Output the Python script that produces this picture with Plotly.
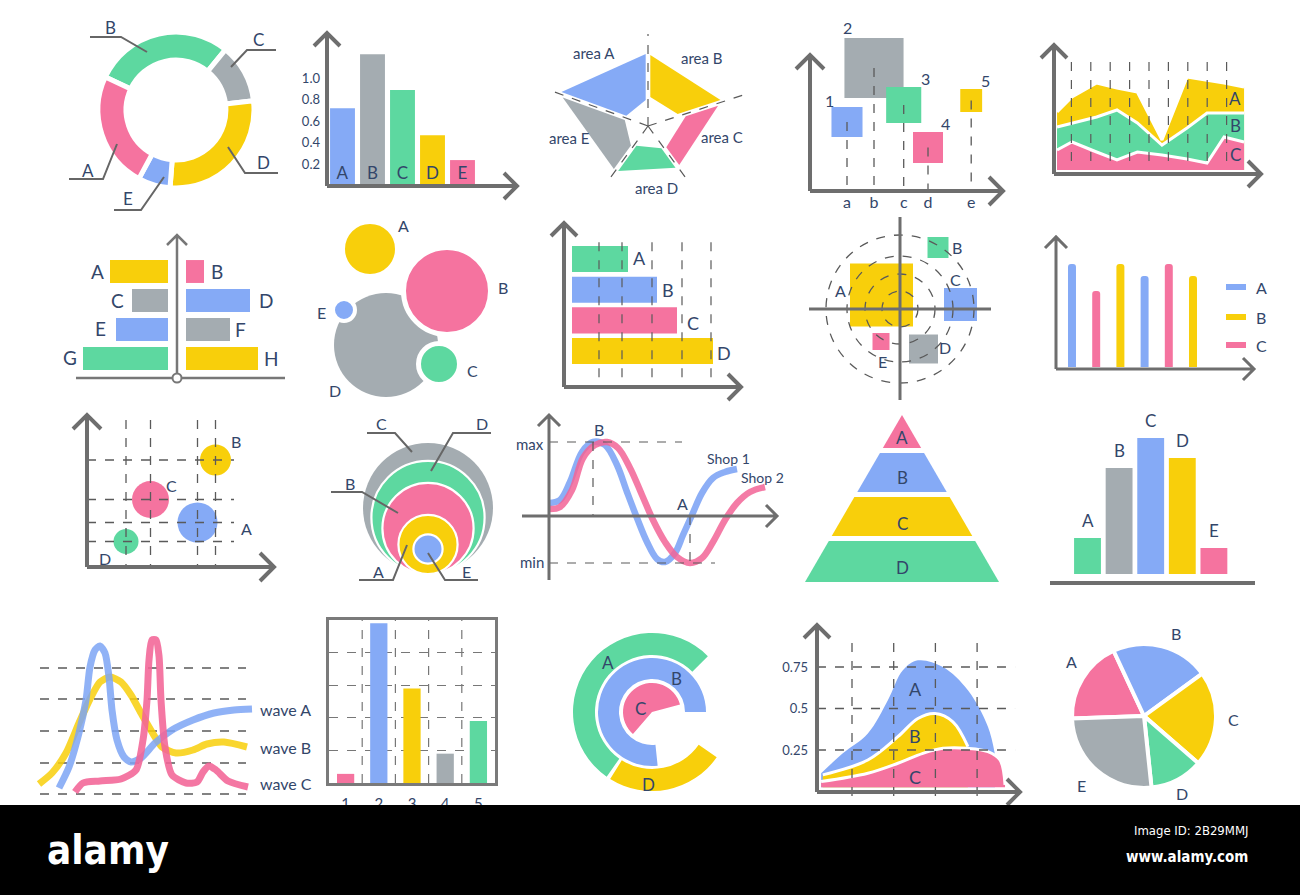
import math
import plotly.graph_objects as go

W, H = 1300, 895
PINK = '#F5739F'
GREEN = '#5DD8A0'
GREY = '#A4ACB1'
YELLOW = '#F8CF0B'
BLUE = '#85AAF6'
TEXT = '#33466A'
AX = '#6E6E6E'
DASH = '#5A5A5A'
FONT = 'Lato, Open Sans, sans-serif'

# ---------------- data ----------------
donut_labels = ['B', 'C', 'D', 'E', 'A']
donut_values = [100, 42, 97, 23, 83]

bar_labels = ['A', 'B', 'C', 'D', 'E']
bar_values = [0.72, 1.22, 0.89, 0.47, 0.24]
bar_ticks = [0.2, 0.4, 0.6, 0.8, 1.0]

radar_names = ['area A', 'area E', 'area D', 'area C', 'area B']
radar_axes = [90, 160, 234, 306, 378, 450]
radar_outer = [[72, 93], [90, 55], [54, 50], [50, 73], [77, 71]]
radar_inner = [[26, 24], [24, 26], [23, 26], [28, 39], [32, 29]]
radar_spoke_len = [92, 106, 69, 69, 100]

float_ids = ['1', '2', '3', '4', '5']
float_cats = ['a', 'b', 'c', 'd', 'e']
float_pos = [1, 2, 3.1, 4, 5.6]
float_low = [5.4, 9.3, 6.8, 2.8, 7.9]
float_high = [8.4, 15.3, 10.4, 5.9, 10.2]
float_width = [1.15, 2.19, 1.30, 1.11, 0.81]

stack_x = [0.26, 1.03, 2.3, 3.35, 4.4, 5.67, 6.96, 7.99, 8.87, 9.9]
stack_A = [5.8, 7.3, 8.7, 8.2, 7.8, 3.0, 9.3, 9.0, 8.7, 8.3]
stack_B = [4.3, 4.7, 5.3, 6.0, 4.7, 2.5, 4.2, 5.7, 5.7, 5.7]
stack_C = [2.0, 2.8, 1.8, 1.0, 1.8, 1.5, 1.1, 0.7, 3.3, 2.8]
stack_grid = [1, 2, 3, 4, 5, 6, 7, 8, 9]

bf_left_labels = ['A', 'C', 'E', 'G']
bf_left = [58, 36, 52, 85]
bf_right_labels = ['B', 'D', 'F', 'H']
bf_right = [18, 64, 44, 72]
bf_rows = [4, 3, 2, 1]

bub_labels = ['D', 'A', 'B', 'C', 'E']
bub_x = [86, 70, 147, 139, 44]
bub_y = [55, 151, 109, 36, 90]
bub_d = [104, 50, 82, 36, 18]

hbar_labels = ['A', 'B', 'C', 'D']
hbar_values = [5.6, 8.5, 10.5, 14.1]
hbar_rows = [4, 3, 2, 1]
hbar_grid = [2.7, 5.0, 8.0, 11.0, 13.9]

target_labels = ['A', 'B', 'C', 'D', 'E']
target_x = [-18.5, 38, 60.5, 23.5, -19]
target_y = [14, 61.5, 4.5, -40, -32.5]
target_size = [63, 21, 33, 29, 17]
target_rings = [18, 35, 53, 74]

thin_series = ['A', 'C', 'B', 'A', 'C', 'B']
thin_values = [10.3, 7.6, 10.3, 9.1, 10.3, 9.1]

scat_labels = ['A', 'B', 'C', 'D']
scat_x = [110.5, 128.5, 63.5, 39]
scat_y = [44.5, 107, 67.5, 25.5]
scat_d = [40, 31, 37, 25]

nest_labels = ['C', 'D', 'B', 'A', 'E']
nest_r = [65, 55.5, 44.5, 28.5, 13.5]
nest_cy = [65, 55.5, 44.5, 28.5, 24]

shop1_x = [0, 11, 21, 33, 44, 56, 68, 78, 88, 98, 108, 116, 126, 134, 143, 153, 164, 176, 188]
shop1_y = [13, 16, 34, 64, 74, 71, 51, 24, -2, -26, -43, -46, -37, -19, 1, 23, 38, 44, 47]
shop2_x = [0, 11, 23, 34, 46, 58, 69, 81, 93, 104, 116, 128, 141, 153, 164, 176, 188, 201, 216]
shop2_y = [7, 9, 26, 58, 71, 74, 68, 48, 21, -4, -26, -41, -47, -42, -26, -4, 13, 24, 29]

pyr_labels = ['A', 'B', 'C', 'D']
pyr_heights = [33, 39, 39, 41]

col_labels = ['A', 'B', 'C', 'D', 'E']
col_values = [3.6, 10.6, 13.6, 11.6, 2.6]

waveA_x = [19, 29, 39, 46, 50, 55, 60, 65, 69, 72, 77, 84, 91, 101, 115, 132, 153, 174, 194, 212]
waveA_y = [6, 27, 61, 94, 127, 144, 148, 141, 117, 84, 54, 37, 32, 36, 51, 64, 74, 81, 84, 85]
waveB_x = [-1, 12, 26, 39, 51, 60, 70, 81, 91, 101, 112, 122, 136, 153, 167, 184, 207]
waveB_y = [10, 21, 41, 71, 97, 112, 117, 112, 99, 81, 62, 47, 41, 44, 50, 52, 47]
waveC_x = [35, 43, 60, 81, 96, 103, 107, 109, 112, 116, 119, 121, 125, 132, 146, 157, 163, 169, 176, 188, 208]
waveC_y = [2, 11, 13, 15, 24, 54, 94, 134, 154, 154, 138, 94, 47, 19, 11, 12, 22, 28, 24, 13, 7]
wave_levels = [0, 31, 63, 95, 126]

grid_cats = ['1', '2', '3', '4', '5']
grid_values = [0.28, 4.9, 2.9, 0.9, 1.9]

arc_labels = ['A', 'B', 'C', 'D']
arc_start = [45, 0, 15, 238]
arc_end = [235, 276, 229, 325]
arc_inner = [57, 33, 0, 57]
arc_outer = [79, 54, 29, 79]

area_Ax = [0.26, 0.78, 1.38, 1.86, 2.22, 2.58, 3.18, 3.78, 4.26, 4.43]
area_A = [0.11, 0.23, 0.35, 0.55, 0.73, 0.79, 0.75, 0.61, 0.39, 0.22]
area_Bx = [0.30, 1.38, 2.10, 2.58, 2.99, 3.42, 3.78]
area_B = [0.10, 0.19, 0.33, 0.44, 0.47, 0.42, 0.27]
area_Cx = [0.26, 1.38, 2.10, 2.70, 3.18, 3.78, 4.26, 4.55, 4.67]
area_C = [0.06, 0.11, 0.17, 0.23, 0.26, 0.26, 0.24, 0.19, 0.04]
area_ticks = [0.25, 0.5, 0.75]

pie_labels = ['A', 'B', 'C', 'D', 'E']
pie_values = [67, 79, 77, 43, 94]

# ---------------- helpers ----------------
fig = go.Figure()
lay = {}
shapes = []
annots = []
NO = dict(hoverinfo='skip', showlegend=False)


def P(x):
    return x / W


def Q(y):
    return 1 - y / H


def panel(k, box, x0, xs, y0, ys):
    L, T, R, B = box
    lay[f'xaxis{k}'] = dict(domain=[P(L), P(R)], range=[(L - x0) / xs, (R - x0) / xs], visible=False,
                            anchor=f'y{k}', fixedrange=True, showgrid=False, zeroline=False)
    lay[f'yaxis{k}'] = dict(domain=[Q(B), Q(T)], range=[(y0 - B) / ys, (y0 - T) / ys], visible=False,
                            anchor=f'x{k}', fixedrange=True, showgrid=False, zeroline=False)
    return dict(xaxis=f'x{k}', yaxis=f'y{k}')


def path(seg_list, color=AX, width=3, dash=None):
    d = ''
    for pts in seg_list:
        d += 'M ' + ' L '.join(f'{P(x):.5f},{Q(y):.5f}' for x, y in pts) + ' '
    shapes.append(dict(type='path', path=d.strip(), xref='paper', yref='paper',
                       line=dict(color=color, width=width, dash=dash), layer='above'))


def arrows(ox, oy, top=None, right=None, arm=13, width=4, color=AX):
    segs = []
    if top is not None:
        segs.append([(ox, oy), (ox, top)])
        segs.append([(ox - arm, top + arm), (ox, top), (ox + arm, top + arm)])
    if right is not None:
        segs.append([(ox, oy), (right, oy)])
        segs.append([(right - arm, oy - arm), (right, oy), (right - arm, oy + arm)])
    path(segs, color, width)


def T(x, y, s, size=17, xa='center', color=TEXT, family=FONT):
    annots.append(dict(x=P(x), y=Q(y), xref='paper', yref='paper', text=s, showarrow=False,
                       xanchor=xa, yanchor='middle', font=dict(size=size, color=color, family=family)))


def dashed(ax, segs, color=DASH, width=1.3):
    xs, ys = [], []
    for (a, b), (c, d) in segs:
        xs += [a, c, None]
        ys += [b, d, None]
    fig.add_trace(go.Scatter(x=xs, y=ys, mode='lines', line=dict(color=color, width=width, dash='dash'),
                             **ax, **NO))


# ---------------- 1. donut ----------------
fig.add_trace(go.Pie(labels=donut_labels, values=donut_values, hole=0.64, sort=False, direction='clockwise',
                     rotation=-65, textinfo='none',
                     marker=dict(colors=[GREEN, GREY, YELLOW, BLUE, PINK], line=dict(color='white', width=5)),
                     domain=dict(x=[P(98), P(254)], y=[Q(188), Q(32)]), **NO))
for s, (x, y) in zip(['B', 'C', 'D', 'A', 'E'], [(110, 28), (258, 39), (263, 163), (88, 170), (128, 199)]):
    T(x, y, s, 17)
path([[(90, 37), (121, 37), (147, 52)], [(276, 50), (247, 50), (231, 67)], [(278, 173), (245, 173), (228, 147)],
      [(69, 179), (103, 179), (117, 144)], [(114, 210), (141, 210), (164, 177)]], '#666666', 2)

# ---------------- 2. bar chart ----------------
ax2 = panel(2, (327, 25, 520, 186), 342.5, 30, 186, 108)
fig.add_trace(go.Bar(x=list(range(len(bar_values))), y=bar_values, width=0.83,
                     marker=dict(color=[BLUE, GREY, GREEN, YELLOW, PINK], line=dict(width=0)),
                     text=bar_labels, textposition='inside', insidetextanchor='start', textangle=0,
                     constraintext='none', insidetextfont=dict(size=17, color=TEXT, family=FONT), **ax2, **NO))
lay['yaxis2'].update(visible=True, showline=False, tickvals=bar_ticks, ticktext=[f'{v:.1f}' for v in bar_ticks],
                     ticks='', ticklen=0, ticklabelstandoff=6, tickfont=dict(size=13, color=TEXT, family=FONT))
arrows(327, 186, top=33, right=517, arm=13, width=4)

# ---------------- 3. radar ----------------
lay['polar'] = dict(domain=dict(x=[P(542), P(754)], y=[Q(232), Q(20)]), bgcolor='rgba(0,0,0,0)',
                    radialaxis=dict(range=[0, 106], visible=False),
                    angularaxis=dict(visible=False, rotation=0, direction='counterclockwise'))
radar_cols = [BLUE, GREY, GREEN, PINK, YELLOW]
for i in range(5):
    t1, t2 = radar_axes[i], radar_axes[i + 1]
    o1, o2 = radar_outer[i]
    n1, n2 = radar_inner[i]
    off = lambda r: math.degrees(math.atan(2.3 / r))
    th = [t1 + off(n1), t1 + off(o1), t2 - off(o2), t2 - off(n2), t1 + off(n1)]
    rr = [n1, o1, o2, n2, n1]
    fig.add_trace(go.Scatterpolar(r=rr, theta=th, fill='toself', fillcolor=radar_cols[i], mode='lines',
                                  line=dict(width=0, color=radar_cols[i]), subplot='polar', **NO))
sr, st = [], []
for a, L in zip(radar_axes[:5], radar_spoke_len):
    sr += [0, L, None]
    st += [a, a, None]
fig.add_trace(go.Scatterpolar(r=sr, theta=st, mode='lines', line=dict(color=DASH, width=1.2, dash='dash'),
                              subplot='polar', **NO))
for s, (x, y) in zip(['area A', 'area B', 'area C', 'area E', 'area D'],
                     [(594, 53), (702, 58), (722, 137), (569, 138), (656, 188)]):
    T(x, y, s, 15)

# ---------------- 4. floating boxes ----------------
ax4 = panel(4, (810, 20, 1003, 191), 820, 27, 191, 10)
fig.add_trace(go.Bar(x=float_pos, y=[h - l for l, h in zip(float_low, float_high)], base=float_low,
                     width=float_width, marker=dict(color=[BLUE, GREY, GREEN, PINK, YELLOW], line=dict(width=0)),
                     **ax4, **NO))
dashed(ax4, [((p, (l + h) / 2), (p, 0)) for p, l, h in zip(float_pos, float_low, float_high)])
lay['xaxis4'].update(visible=True, showline=False, tickvals=float_pos, ticktext=float_cats, ticks='',
                     tickfont=dict(size=16, color=TEXT, family=FONT))
arrows(810, 191, top=55, right=1003, arm=14, width=4)
for s, (x, y) in zip(float_ids, [(829, 100), (847, 27), (925, 78), (946, 123), (985, 80)]):
    T(x, y, s, 16)

# ---------------- 5. stacked areas ----------------
ax5 = panel(5, (1052, 40, 1262, 176), 1052, 19.4, 170, 10)
for ys_, c in [(stack_A, YELLOW), (stack_B, GREEN), (stack_C, PINK)]:
    fig.add_trace(go.Scatter(x=stack_x, y=ys_, mode='lines', fill='tozeroy', fillcolor=c,
                             line=dict(color='white', width=3), **ax5, **NO))
dashed(ax5, [((g, 10.8), (g, 0)) for g in stack_grid], width=1.2)
arrows(1054, 174, top=45, right=1261, arm=13, width=4)
for s, y in zip(['A', 'B', 'C'], [98, 126, 155]):
    T(1235, y, s, 17)

# ---------------- 6. butterfly bars ----------------
ax6 = panel(6, (55, 225, 295, 385), 177, 1, 387.5, 29)
fig.add_trace(go.Bar(x=[-v for v in bf_left], y=bf_rows, base=-9, orientation='h', width=0.79,
                     marker=dict(color=[YELLOW, GREY, BLUE, GREEN], line=dict(width=0)), **ax6, **NO))
fig.add_trace(go.Bar(x=bf_right, y=bf_rows, base=9, orientation='h', width=0.79,
                     marker=dict(color=[PINK, BLUE, GREY, YELLOW], line=dict(width=0)), **ax6, **NO))
path([[(177, 378), (177, 235)], [(167, 245), (177, 235), (187, 245)], [(76, 378), (285, 378)]], '#777777', 2.5)
shapes.append(dict(type='circle', xref='paper', yref='paper', x0=P(172.5), x1=P(181.5), y0=Q(382.5), y1=Q(373.5),
                   fillcolor='white', line=dict(color='#777777', width=2), layer='above'))
for s, (x, y) in zip(bf_left_labels + bf_right_labels,
                     [(97, 271), (117, 300), (101, 328), (70, 357), (217, 271), (266, 300), (240, 329), (271, 358)]):
    T(x, y, s, 19)

# ---------------- 7. bubbles ----------------
ax7 = panel(7, (295, 205, 525, 410), 300, 1, 400, 1)
bw = [0, 5, 5, 5, 4]
fig.add_trace(go.Scatter(x=bub_x, y=bub_y, mode='markers', cliponaxis=False,
                         marker=dict(size=[d + w for d, w in zip(bub_d, bw)], color=[GREY, YELLOW, PINK, GREEN, BLUE],
                                     line=dict(color='white', width=bw), opacity=1),
                         **ax7, **NO))
for s, (x, y) in zip(['A', 'B', 'E', 'C', 'D'], [(403, 225), (503, 287), (321, 312), (472, 371), (335, 391)]):
    T(x, y, s, 16)

# ---------------- 8. horizontal bars ----------------
ax8 = panel(8, (560, 218, 745, 392), 572, 10, 381.7, 30.67)
fig.add_trace(go.Bar(x=hbar_values, y=hbar_rows, orientation='h', width=0.85,
                     marker=dict(color=[GREEN, BLUE, PINK, YELLOW], line=dict(width=0)), **ax8, **NO))
dashed(ax8, [((g, 4.55), (g, -0.17)) for g in hbar_grid], width=1.2)
arrows(564, 387, top=223, right=741, arm=13, width=4)
for s, (x, y) in zip(hbar_labels, [(639, 258), (668, 290), (693, 323), (724, 353)]):
    T(x, y, s, 18)

# ---------------- 9. target ----------------
ax9 = panel(9, (805, 212, 995, 405), 900, 1, 309, 1)
fig.add_trace(go.Scatter(x=target_x, y=target_y, mode='markers', cliponaxis=False,
                         marker=dict(symbol='square', size=target_size, color=[YELLOW, GREEN, BLUE, GREY, PINK],
                                     line=dict(width=0), opacity=1), **ax9, **NO))
for r in target_rings:
    shapes.append(dict(type='circle', xref='x9', yref='y9', x0=-r, x1=r, y0=-r, y1=r,
                       line=dict(color=DASH, width=1.3, dash='dash'), layer='above'))
path([[(900, 217), (900, 400)], [(809, 309), (991, 309)]], AX, 3)
for s, (x, y) in zip(target_labels, [(840, 290), (957, 248), (955, 279), (945, 347), (882, 361)]):
    T(x, y, s, 16)

# ---------------- 10. thin bars + legend ----------------
ax10 = panel(10, (1056, 230, 1256, 371), 1072, 24.2, 367, 10)
thin_col = {'A': BLUE, 'B': YELLOW, 'C': PINK}
fig.add_trace(go.Bar(x=list(range(len(thin_values))), y=thin_values, width=0.33,
                     marker=dict(color=[thin_col[s] for s in thin_series], line=dict(width=0), cornerradius=4),
                     **ax10, **NO))
arrows(1056, 369, top=237, right=1254, arm=11, width=3)
for s, y in zip(['A', 'B', 'C'], [287, 317, 345]):
    path([[(1226, y), (1246, y)]], thin_col[s], 6)
    T(1254, y, s, 16, xa='left')

# ---------------- 11. scatter bubbles ----------------
ax11 = panel(11, (80, 410, 280, 575), 87, 1, 567, 1)
fig.add_trace(go.Scatter(x=scat_x, y=scat_y, mode='markers', cliponaxis=False,
                         marker=dict(size=scat_d, color=[BLUE, YELLOW, PINK, GREEN], line=dict(width=0), opacity=1),
                         **ax11, **NO))
segs = []
for x, y in zip(scat_x, scat_y):
    segs.append(((x, 147), (x, 0)))
    segs.append(((0, y), (147, y)))
dashed(ax11, segs, width=1.3)
arrows(87, 567, top=415, right=274, arm=14, width=4)
for s, (x, y) in zip(['B', 'C', 'A', 'D'], [(236, 441), (171, 485), (246, 528), (105, 558)]):
    T(x, y, s, 16)

# ---------------- 12. nested circles ----------------
ax12 = panel(12, (320, 415, 520, 590), 428, 1, 573, 1)
gap = 2.2
nw = [0, gap, gap, gap, gap]
fig.add_trace(go.Scatter(x=[0] * len(nest_r), y=nest_cy, mode='markers', cliponaxis=False,
                         marker=dict(size=[2 * r + w for r, w in zip(nest_r, nw)],
                                     color=[GREY, GREEN, PINK, YELLOW, BLUE], opacity=1,
                                     line=dict(color='white', width=nw)), **ax12, **NO))
path([[(367, 433), (395, 433), (412, 452)], [(491, 433), (453, 433), (431, 471)],
      [(331, 492), (362, 492), (398, 513)], [(359, 580), (393, 580), (407, 545)],
      [(478, 580), (445, 580), (428, 553)]], '#666666', 2)
for s, (x, y) in zip(['C', 'D', 'B', 'A', 'E'], [(381, 424), (482, 424), (350, 483), (378, 571), (466, 571)]):
    T(x, y, s, 16)

# ---------------- 13. shop waves ----------------
ax13 = panel(13, (520, 410, 790, 585), 549, 1, 516, 1)
for xs_, ys_, c in [(shop1_x, shop1_y, 'rgba(120,160,245,0.85)'), (shop2_x, shop2_y, 'rgba(242,100,150,0.85)')]:
    fig.add_trace(go.Scatter(x=xs_, y=ys_, mode='lines', line=dict(color=c, width=6.5, shape='spline'),
                             **ax13, **NO))
ymax = max(shop1_y)
bx = shop1_x[shop1_y.index(ymax)]
ymin = min(shop2_y)
axm = shop2_x[shop2_y.index(ymin)]
dashed(ax13, [((0, ymax), (133, ymax)), ((0, ymin), (166, ymin)), ((bx, ymax), (bx, 0)), ((axm, 0), (axm, ymin))],
       width=1.2)
path([[(549, 580), (549, 415)], [(538, 426), (549, 415), (560, 426)],
      [(522, 516), (777, 516)], [(766, 505), (777, 516), (766, 527)]], AX, 3)
T(546, 444, 'max', 15, xa='right')
T(546, 562, 'min', 15, xa='right')
T(599, 429, 'B', 16)
T(683, 503, 'A', 16)
T(728, 458, 'Shop 1', 14)
T(762, 477, 'Shop 2', 14)

# ---------------- 14. pyramid ----------------
ax14 = panel(14, (800, 410, 1004, 586), 902, 1, 582, 1)
pgap = 5
total = sum(pyr_heights) + pgap * (len(pyr_heights) - 1)
hw = lambda h: 97 * (total - h) / total
top = total
for s, hgt, c in zip(pyr_labels, pyr_heights, [PINK, BLUE, YELLOW, GREEN]):
    bot = top - hgt
    fig.add_trace(go.Scatter(x=[-hw(bot), hw(bot), hw(top), -hw(top), -hw(bot)], y=[bot, bot, top, top, bot],
                             mode='lines', fill='toself', fillcolor=c, line=dict(width=0, color=c), **ax14, **NO))
    top = bot - pgap
for s, y in zip(pyr_labels, [437, 477, 523, 567]):
    T(902, y, s, 17)

# ---------------- 15. columns with top labels ----------------
ax15 = panel(15, (1045, 410, 1260, 590), 1087.5, 31.6, 574, 10)
fig.add_trace(go.Bar(x=list(range(len(col_values))), y=col_values, width=0.85,
                     marker=dict(color=[GREEN, GREY, BLUE, YELLOW, PINK], line=dict(width=0)), **ax15, **NO))
for i, (s, v) in enumerate(zip(col_labels, col_values)):
    annots.append(dict(x=i, y=v, xref='x15', yref='y15', text=s, showarrow=False, yanchor='bottom', yshift=5,
                       font=dict(size=17, color=TEXT, family=FONT)))
path([[(1050, 583), (1255, 583)]], AX, 4)

# ---------------- 16. waves A/B/C ----------------
ax16 = panel(16, (30, 625, 305, 800), 40, 1, 794, 1)
dashed(ax16, [((0, l), (206, l)) for l in wave_levels], width=1.3)
for xs_, ys_, c in [(waveB_x, waveB_y, 'rgba(248,207,11,0.85)'), (waveA_x, waveA_y, 'rgba(125,165,245,0.85)'),
                    (waveC_x, waveC_y, 'rgba(242,100,150,0.88)')]:
    fig.add_trace(go.Scatter(x=xs_, y=ys_, mode='lines', line=dict(color=c, width=7, shape='spline', smoothing=0.7),
                             **ax16, **NO))
for s, y in zip(['wave A', 'wave B', 'wave C'], [709, 747, 783]):
    T(258, y, s, 16, xa='left')

# ---------------- 17. framed grid bars ----------------
ax17 = panel(17, (329, 620, 495, 783), 312.4, 33.2, 783, 32.6)
dashed(ax17, [((g + 0.5, 0), (g + 0.5, 5)) for g in range(1, 5)], color='#777777', width=1.2)
fig.add_trace(go.Bar(x=list(range(1, 6)), y=grid_values, width=0.52,
                     marker=dict(color=[PINK, BLUE, YELLOW, GREY, GREEN], line=dict(width=0)), **ax17, **NO))
lay['xaxis17'].update(visible=True, showline=True, mirror=True, linecolor='#7A7A7A', linewidth=3,
                      tickvals=list(range(1, 6)), ticktext=grid_cats, ticks='', ticklabelstandoff=5,
                      tickfont=dict(size=15, color=TEXT, family=FONT))
lay['yaxis17'].update(visible=True, showline=True, mirror=True, linecolor='#7A7A7A', linewidth=3,
                      showticklabels=False, ticks='', showgrid=True, tickvals=[1, 2, 3, 4], griddash='dash',
                      gridcolor='#777777', gridwidth=1.2)

# ---------------- 18. C-shaped rings ----------------
lay['polar2'] = dict(domain=dict(x=[P(572), P(732)], y=[Q(792), Q(632)]), bgcolor='rgba(0,0,0,0)',
                     radialaxis=dict(range=[0, 80], visible=False),
                     angularaxis=dict(visible=False, rotation=0, direction='counterclockwise'))
fig.add_trace(go.Barpolar(r=[o - i for o, i in zip(arc_outer, arc_inner)], base=arc_inner,
                          theta=[(s + e) / 2 for s, e in zip(arc_start, arc_end)],
                          width=[e - s for s, e in zip(arc_start, arc_end)],
                          marker=dict(color=[GREEN, BLUE, PINK, YELLOW], line=dict(width=0)),
                          subplot='polar2', **NO))
for s, (x, y) in zip(arc_labels, [(608, 662), (676, 678), (640, 708), (648, 784)]):
    T(x, y, s, 17)

# ---------------- 19. layered areas ----------------
ax19 = panel(19, (817, 625, 1022, 806), 810.3, 41.7, 791.5, 166)
for xs_, ys_, c, lw in [(area_Ax, area_A, BLUE, 0), (area_Bx, area_B, YELLOW, 3), (area_Cx, area_C, PINK, 3)]:
    fig.add_trace(go.Scatter(x=xs_, y=[0.025] * len(xs_), mode='lines', line=dict(width=0), **ax19, **NO))
    fig.add_trace(go.Scatter(x=xs_, y=ys_, mode='lines', fill='tonexty', fillcolor=c,
                             line=dict(color='white', width=lw, shape='spline'), **ax19, **NO))
segs = [((0.16, t), (4.91, t)) for t in area_ticks] + [((g, 0.895), (g, -0.08)) for g in [1, 2, 3, 4]]
dashed(ax19, segs, width=1.3)
lay['yaxis19'].update(visible=True, showline=False, tickvals=area_ticks, ticktext=['0.25', '0.5', '0.75'],
                      ticks='', ticklabelstandoff=8, tickfont=dict(size=13, color=TEXT, family=FONT))
arrows(817, 792, top=625, right=1020, arm=13, width=4)
for s, y in zip(['A', 'B', 'C'], [689, 736, 777]):
    T(915, y, s, 18)

# ---------------- 20. pie ----------------
fig.add_trace(go.Pie(labels=pie_labels, values=pie_values, sort=False, direction='clockwise', rotation=-92,
                     textinfo='none',
                     marker=dict(colors=[PINK, BLUE, YELLOW, GREEN, GREY], line=dict(color='white', width=4)),
                     domain=dict(x=[P(1072), P(1216)], y=[Q(788), Q(644)]), **NO))
for s, (x, y) in zip(pie_labels, [(1071, 661), (1176, 633), (1233, 719), (1182, 793), (1081, 785)]):
    T(x, y, s, 16)

# ---------------- footer band ----------------
shapes.append(dict(type='rect', xref='paper', yref='paper', x0=0, x1=1, y0=0, y1=Q(805),
                   fillcolor='black', line=dict(width=0), layer='above'))
COND = 'Liberation Sans Narrow, DejaVu Sans Condensed, sans-serif'
T(45, 850, '<b>alamy</b>', 40, xa='left', color='white', family=COND)
T(1250, 830, 'Image ID: 2B29MMJ', 13, xa='right', color='white', family=COND)
T(1250, 857, '<b>www.alamy.com</b>', 15, xa='right', color='white', family=COND)

fig.update_layout(width=W, height=H, margin=dict(l=0, r=0, t=0, b=0), paper_bgcolor='white',
                  plot_bgcolor='rgba(0,0,0,0)', showlegend=False, barmode='overlay',
                  xaxis=dict(visible=False), yaxis=dict(visible=False),
                  shapes=shapes, annotations=annots, **lay)
fig.write_html('out.html', config={'displayModeBar': False, 'staticPlot': True},
               post_script="document.body.style.margin='0';document.body.style.overflow='hidden';")
